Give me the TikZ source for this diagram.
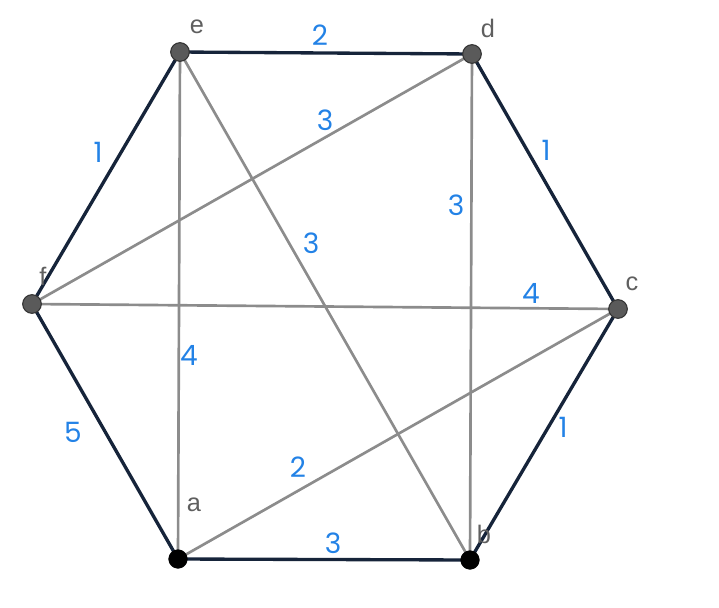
\documentclass[tikz,border=0pt]{standalone}
\usepackage{fontspec}
\setmainfont{Liberation Sans}
\newfontfamily\handfont{Poppins}
\definecolor{navy}{RGB}{22,36,58}
\definecolor{edgegray}{RGB}{140,140,140}
\definecolor{wblue}{RGB}{35,130,230}
\definecolor{lblgray}{RGB}{95,95,95}
\definecolor{vgray}{RGB}{90,90,90}
\tikzset{
  px/.style={x=0.75pt,y=-0.75pt},
  vtx/.style={circle,fill=vgray,draw=black!80,line width=0.8pt,minimum size=14pt,inner sep=0pt},
  vtxb/.style={circle,fill=black,draw=black,minimum size=14pt,inner sep=0pt},
  dark/.style={draw=navy,line width=2.5pt},
  light/.style={draw=edgegray,line width=2pt},
  wt/.style={text=wblue,font=\handfont\fontsize{21}{21}\selectfont,inner sep=0pt},
  vl/.style={text=lblgray,font=\fontsize{19}{19}\selectfont,inner sep=0pt}
}
\begin{document}
\begin{tikzpicture}[px]
\useasboundingbox (0,0) rectangle (719,608);
\coordinate (e) at (180,52);
\coordinate (d) at (472,54);
\coordinate (c) at (618,309);
\coordinate (b) at (470,560);
\coordinate (a) at (178,559);
\coordinate (f) at (32,304);
% light edges
\draw[light] (e) -- (a);
\draw[light] (e) -- (b);
\draw[light] (d) -- (f);
\draw[light] (d) -- (b);
\draw[light] (f) -- (c);
\draw[light] (a) -- (c);
% dark edges
\draw[dark] (e) -- (d);
\draw[dark] (d) -- (c);
\draw[dark] (c) -- (b);
\draw[dark] (b) -- (a);
\draw[dark] (a) -- (f);
\draw[dark] (f) -- (e);
% vertices
\node[vtx] (ve) at (e) {};
\node[vtx] (vd) at (d) {};
\node[vtx] (vc) at (c) {};
\node[vtx] (vf) at (f) {};
\node[vtxb] (va) at (a) {};
\node[vtxb] (vb) at (b) {};
% vertex labels
\node[vl] (le) at (197,27) {e};
\node[vl] (ld) at (488,28) {d};
\node[vl] (lc) at (632,284) {c};
\node[vl] (lf) at (43,276) {f};
\node[vl] (la) at (194,505) {a};
\node[vl] (lb) at (484,534) {b};
% weights
\node[wt] (w1) at (320,35) {2};
\node[wt] (w2) at (98,152) {1};
\node[wt] (w3) at (325,120) {3};
\node[wt] (w4) at (546,150) {1};
\node[wt] (w5) at (456,205) {3};
\node[wt] (w6) at (311,243) {3};
\node[wt] (w7) at (531,293) {4};
\node[wt] (w8) at (189,355) {4};
\node[wt] (w9) at (73,432) {5};
\node[wt] (w10) at (563,427) {1};
\node[wt] (w11) at (298,467) {2};
\node[wt] (w12) at (333,543) {3};
\end{tikzpicture}
\end{document}
